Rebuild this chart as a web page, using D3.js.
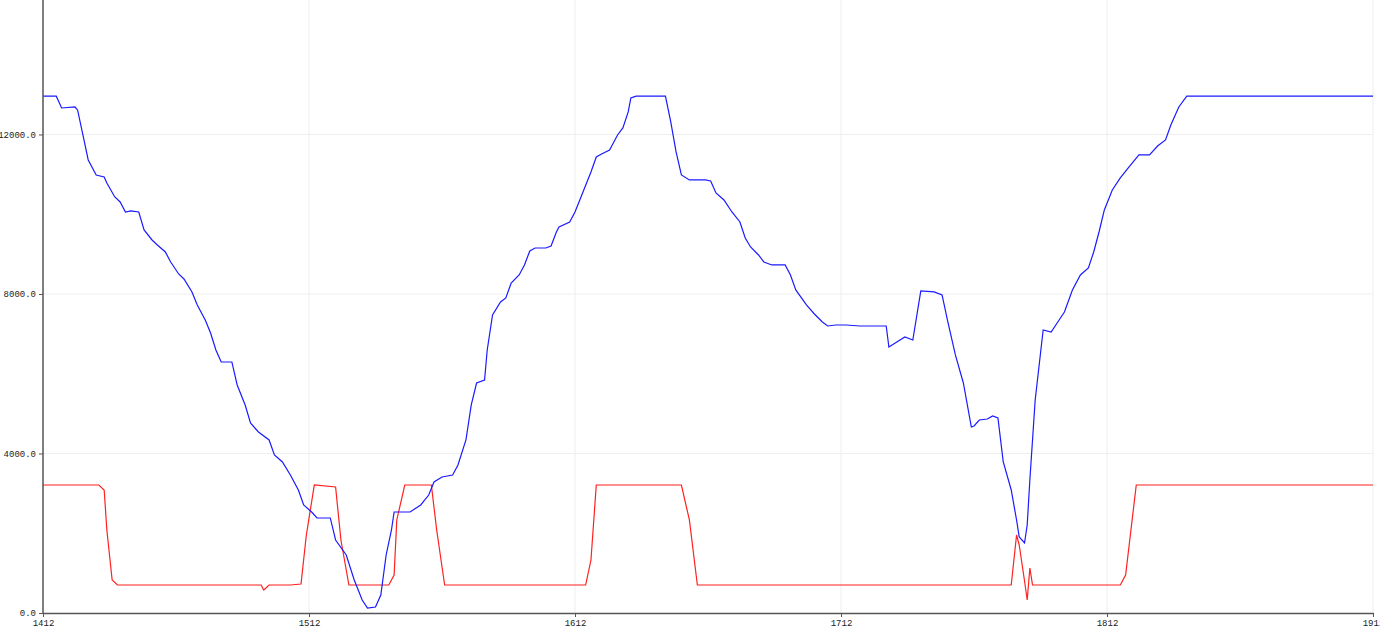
<!DOCTYPE html>
<html><head><meta charset="utf-8">
<script src="https://cdn.jsdelivr.net/npm/d3@7"></script>
<style>body{margin:0;background:#fff}svg{display:block}</style>
</head><body><svg id="c" width="1380" height="636"></svg>
<script>
const xTicks=[1412,1512,1612,1712,1812,1912];
const yTicks=[0,4000,8000,12000];
const blueSeries=[[1412,12960],[1417,12960],[1419,12665],[1424,12690],[1425,12615],[1427,11988],[1429,11361],[1432,10985],[1435,10935],[1436,10784],[1439,10433],[1441,10308],[1443,10057],[1445,10082],[1448,10057],[1450,9606],[1453,9355],[1455,9229],[1458,9054],[1460,8803],[1463,8502],[1465,8377],[1468,8051],[1470,7725],[1473,7348],[1475,7022],[1477,6596],[1479,6295],[1483,6295],[1485,5718],[1488,5217],[1490,4765],[1493,4539],[1497,4339],[1499,3963],[1502,3787],[1505,3461],[1508,3085],[1510,2709],[1513,2533],[1515,2383],[1520,2383],[1522,1831],[1526,1455],[1529,828],[1532,326],[1534,125],[1537,150],[1539,451],[1541,1455],[1543,2082],[1544,2533],[1550,2533],[1554,2709],[1557,2959],[1559,3285],[1562,3411],[1566,3461],[1568,3712],[1571,4339],[1573,5217],[1575,5768],[1578,5844],[1579,6596],[1581,7474],[1584,7800],[1586,7900],[1588,8276],[1591,8477],[1593,8728],[1595,9079],[1597,9154],[1601,9154],[1603,9204],[1605,9555],[1606,9681],[1610,9806],[1612,10057],[1615,10559],[1618,11060],[1620,11436],[1622,11512],[1625,11612],[1628,11988],[1630,12164],[1632,12565],[1633,12916],[1635,12960],[1646,12960],[1648,12314],[1650,11562],[1652,10985],[1655,10860],[1661,10860],[1663,10835],[1665,10534],[1668,10358],[1671,10057],[1674,9806],[1676,9405],[1678,9179],[1681,8979],[1683,8803],[1686,8728],[1691,8728],[1693,8477],[1695,8101],[1699,7725],[1702,7499],[1705,7298],[1707,7198],[1710,7223],[1714,7223],[1719,7198],[1729,7198],[1730,6671],[1733,6797],[1736,6922],[1739,6847],[1742,8076],[1747,8051],[1750,7975],[1752,7348],[1755,6471],[1758,5768],[1761,4665],[1762,4690],[1764,4840],[1767,4865],[1769,4941],[1771,4890],[1773,3787],[1776,3085],[1778,2332],[1779,1906],[1781,1756],[1782,2207],[1783,3336],[1785,5342],[1788,7098],[1791,7047],[1794,7348],[1796,7549],[1799,8101],[1802,8477],[1805,8653],[1807,9054],[1809,9555],[1811,10107],[1814,10609],[1817,10910],[1820,11161],[1824,11487],[1828,11487],[1831,11712],[1834,11863],[1836,12239],[1839,12690],[1842,12960],[1912,12960]];
const redSeries=[[1412,3210],[1433,3210],[1435,3085],[1436,2082],[1438,828],[1440,702],[1494,702],[1495,577],[1497,702],[1505,702],[1509,727],[1511,1956],[1514,3210],[1522,3160],[1524,1831],[1527,702],[1542,702],[1544,953],[1545,2333],[1548,3210],[1558,3210],[1560,2082],[1563,702],[1616,702],[1618,1329],[1620,3210],[1652,3210],[1655,2333],[1658,702],[1776,702],[1778,1956],[1779,1705],[1781,802],[1782,326],[1783,1129],[1784,702],[1817,702],[1819,953],[1821,2082],[1823,3210],[1912,3210]];

const svg=d3.select("#c");
const L=43,R=1373,B=613;
const x=d3.scaleLinear().domain([1412,1912]).range([L,R]);
const y=d3.scaleLinear().domain([0,15373]).range([B,0]);
const g=svg.append("g");
g.selectAll(".vg").data(xTicks.slice(1)).join("line").attr("x1",d=>x(d)).attr("x2",d=>x(d)).attr("y1",0).attr("y2",B).attr("stroke","#eeeeee");
g.selectAll(".hg").data(yTicks.slice(1)).join("line").attr("x1",L).attr("x2",R).attr("y1",d=>y(d)).attr("y2",d=>y(d)).attr("stroke","#eeeeee");
const line=d3.line().x(d=>x(d[0])).y(d=>y(d[1]));
svg.append("path").datum(redSeries).attr("d",line).attr("fill","none").attr("stroke","#ff2020").attr("stroke-width",1.2);
svg.append("path").datum(blueSeries).attr("d",line).attr("fill","none").attr("stroke","#1a1aff").attr("stroke-width",1.2);
const font="'Liberation Mono', 'DejaVu Sans Mono', monospace";
const xa=svg.append("g").attr("transform",`translate(0,${B})`).call(d3.axisBottom(x).tickValues(xTicks).tickSize(4).tickSizeOuter(0).tickFormat(d=>d));
const ya=svg.append("g").attr("transform",`translate(${L},0)`).call(d3.axisLeft(y).tickValues(yTicks).tickSize(4).tickSizeOuter(0).tickFormat(d=>d.toFixed(1)));
[xa,ya].forEach(a=>{a.select(".domain").attr("stroke","#555").attr("stroke-width",1.5);a.selectAll("line").attr("stroke","#555");a.selectAll("text").attr("font-family",font).attr("font-size",9).attr("fill","#222");});
ya.select(".domain").attr("d",`M0,0V${B}`);
</script></body></html>
